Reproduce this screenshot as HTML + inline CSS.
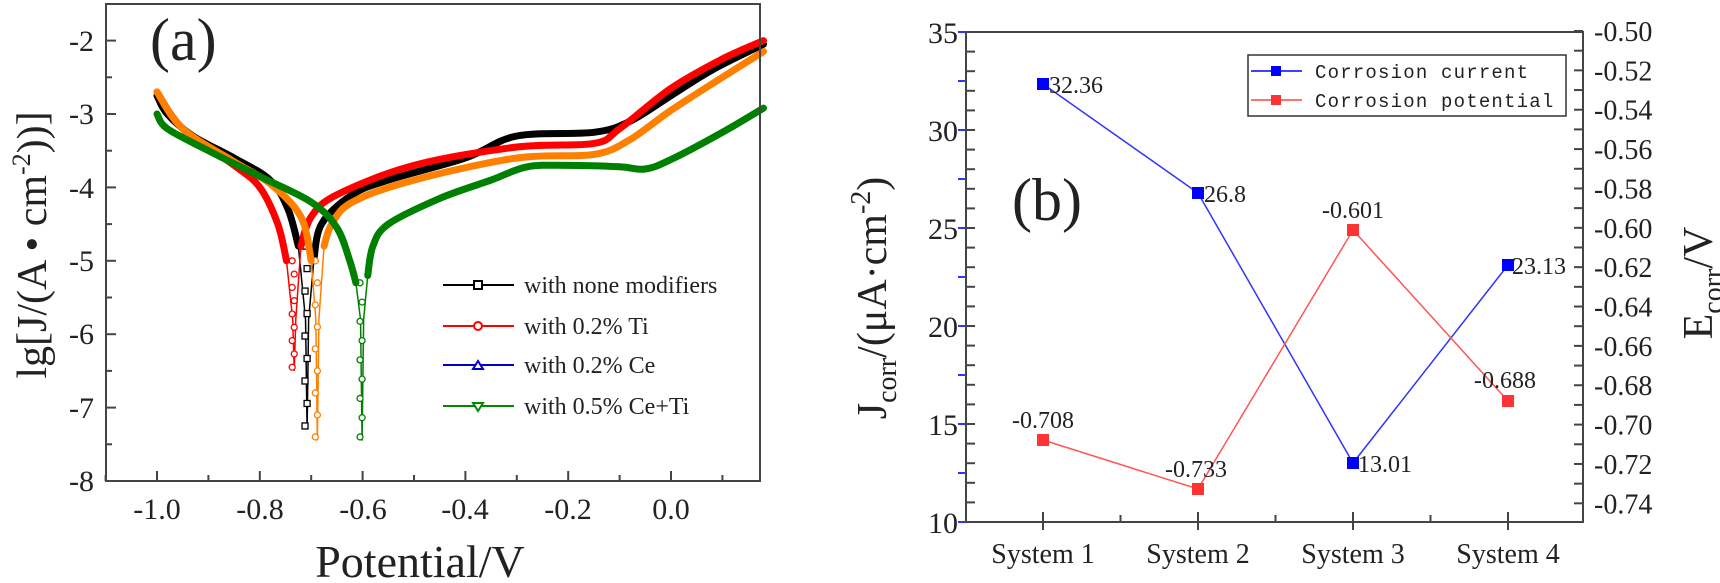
<!DOCTYPE html>
<html><head><meta charset="utf-8"><style>
html,body{margin:0;padding:0;background:#fff;}
svg{display:block;}
text{font-family:"Liberation Serif",serif;fill:#222;}
.m{font-family:"Liberation Mono",monospace;}
</style></head><body>
<svg id="s" width="1720" height="583" viewBox="0 0 1720 583" xmlns="http://www.w3.org/2000/svg">
<g id="curves"></g>
<!-- left frame -->
<rect x="106" y="4" width="654" height="477" fill="none" stroke="#444" stroke-width="2"/>
<g id="lticks" stroke="#444" stroke-width="2"></g>
<g font-size="30" text-anchor="end">
<text x="94" y="51">-2</text><text x="94" y="124">-3</text><text x="94" y="198">-4</text>
<text x="94" y="271">-5</text><text x="94" y="344">-6</text><text x="94" y="418">-7</text><text x="94" y="491">-8</text>
</g>
<g font-size="30" text-anchor="middle">
<text x="157" y="519">-1.0</text><text x="260" y="519">-0.8</text><text x="363" y="519">-0.6</text>
<text x="465" y="519">-0.4</text><text x="568" y="519">-0.2</text><text x="671" y="519">0.0</text>
</g>
<text x="420" y="577" font-size="46" text-anchor="middle">Potential/V</text>
<text transform="translate(46,245) rotate(-90)" font-size="42" text-anchor="middle">lg[J/(A • cm<tspan font-size="26" dy="-16">-2</tspan><tspan dy="16">))]</tspan></text>
<text x="150" y="60" font-size="60">(a)</text>
<!-- legend a -->
<g stroke-width="2" fill="#fff">
<line x1="443" y1="285" x2="514" y2="285" stroke="#000"/><rect x="474" y="281" width="8" height="8" stroke="#000"/>
<line x1="443" y1="326" x2="514" y2="326" stroke="#f00"/><circle cx="478" cy="326" r="4" stroke="#f00"/>
<line x1="443" y1="365" x2="514" y2="365" stroke="#00c"/><path d="M473,369 L478,361 L483,369Z" stroke="#00c"/>
<line x1="443" y1="406" x2="514" y2="406" stroke="#080"/><path d="M473,403 L478,411 L483,403Z" stroke="#080"/>
</g>
<g font-size="24">
<text x="524" y="293">with none modifiers</text>
<text x="524" y="334">with 0.2% Ti</text>
<text x="524" y="373">with 0.2% Ce</text>
<text x="524" y="414">with 0.5% Ce+Ti</text>
</g>

<!-- right plot -->
<rect x="966" y="32" width="617" height="490" fill="none" stroke="#444" stroke-width="2"/>
<g id="rticks" stroke-width="2"></g>
<g font-size="30" text-anchor="end">
<text x="958" y="43">35</text><text x="958" y="141">30</text><text x="958" y="239">25</text>
<text x="958" y="337">20</text><text x="958" y="435">15</text><text x="958" y="533">10</text>
</g>
<g font-size="28" id="rlab"></g>
<g font-size="28" text-anchor="middle">
<text x="1043" y="563">System 1</text><text x="1198" y="563">System 2</text>
<text x="1353" y="563">System 3</text><text x="1508" y="563">System 4</text>
</g>
<text transform="translate(886,298) rotate(-90)" font-size="42" text-anchor="middle">J<tspan font-size="28" dy="10">corr</tspan><tspan dy="-10">/(μA·cm</tspan><tspan font-size="28" dy="-16">-2</tspan><tspan dy="16">)</tspan></text>
<text transform="translate(1712,283) rotate(-90)" font-size="42" text-anchor="middle">E<tspan font-size="28" dy="10">corr</tspan><tspan dy="-10">/V</tspan></text>
<text x="1012" y="220" font-size="60">(b)</text>
<polyline points="1043,84 1198,193 1353,463 1508,265" fill="none" stroke="#33f" stroke-width="1.5"/>
<polyline points="1043,440 1198,489 1353,230 1508,401" fill="none" stroke="#f55" stroke-width="1.5"/>
<g fill="#00f"><rect x="1037" y="78" width="12" height="12"/><rect x="1192" y="187" width="12" height="12"/><rect x="1347" y="457" width="12" height="12"/><rect x="1502" y="259" width="12" height="12"/></g>
<g fill="#f33"><rect x="1037" y="434" width="12" height="12"/><rect x="1192" y="483" width="12" height="12"/><rect x="1347" y="224" width="12" height="12"/><rect x="1502" y="395" width="12" height="12"/></g>
<g font-size="24">
<text x="1049" y="93">32.36</text><text x="1204" y="202">26.8</text><text x="1358" y="472">13.01</text><text x="1512" y="274">23.13</text>
</g>
<g font-size="24" text-anchor="middle">
<text x="1043" y="428">-0.708</text><text x="1196" y="477">-0.733</text><text x="1353" y="218">-0.601</text><text x="1505" y="388">-0.688</text>
</g>
<rect x="1248" y="55" width="318" height="61" fill="#fff" stroke="#333" stroke-width="1.5"/>
<line x1="1251" y1="71" x2="1302" y2="71" stroke="#00f" stroke-width="1.5"/><rect x="1271" y="66" width="10" height="10" fill="#00f"/>
<line x1="1251" y1="100" x2="1302" y2="100" stroke="#f44" stroke-width="1.5"/><rect x="1271" y="95" width="10" height="10" fill="#f33"/>
<text class="m" x="1315" y="78" font-size="19" letter-spacing="1.2">Corrosion current</text>
<text class="m" x="1315" y="107" font-size="19" letter-spacing="1.2">Corrosion potential</text>
</svg>
<script>
var NS="http://www.w3.org/2000/svg";
function el(p,t,a){var e=document.createElementNS(NS,t);for(var k in a)e.setAttribute(k,a[k]);p.appendChild(e);return e;}
var X=function(v){return 157+(v+1)*514;}, Y=function(l){return 481-(l+8)*73.4;};
var lt=document.getElementById('lticks');
for(var i=0;i<=12;i++){var v=-1.1+i*0.1;var x=X(v);var L=(Math.round(v*10)%2==0)?10:6;el(lt,'line',{x1:x,y1:481,x2:x,y2:481-L});}
for(var j=0;j<=13;j++){var l=-8+j*0.5;var y=Y(l);if(y<4)continue;var L=(j%2==0)?10:6;el(lt,'line',{x1:106,y1:y,x2:106+L,y2:y});}
function smooth(pts){var d='M'+pts[0][0]+','+pts[0][1];for(var i=0;i<pts.length-1;i++){var p0=pts[i-1]||pts[i],p1=pts[i],p2=pts[i+1],p3=pts[i+2]||p2;
var c1=[p1[0]+(p2[0]-p0[0])/6,p1[1]+(p2[1]-p0[1])/6],c2=[p2[0]-(p3[0]-p1[0])/6,p2[1]-(p3[1]-p1[1])/6];
d+=' C'+c1[0].toFixed(1)+','+c1[1].toFixed(1)+' '+c2[0].toFixed(1)+','+c2[1].toFixed(1)+' '+p2[0].toFixed(1)+','+p2[1].toFixed(1);}return d;}
function map(a){return a.map(function(p){return [X(p[0]),Y(p[1])];});}
var series=[
{c:'#000',e:-0.708,m:-7.3,cat:[[-1,-2.75],[-0.98,-3.0],[-0.93,-3.3],[-0.85,-3.6],[-0.78,-3.9],[-0.745,-4.3],[-0.725,-4.8]],
 an:[[-0.695,-5.0],[-0.68,-4.5],[-0.62,-4.1],[-0.55,-3.9],[-0.4,-3.6],[-0.3,-3.3],[-0.15,-3.25],[-0.08,-3.1],[0,-2.75],[0.08,-2.4],[0.18,-2.05]],mk:'s'},
{c:'#f00',e:-0.733,m:-6.5,cat:[[-1,-2.7],[-0.95,-3.2],[-0.85,-3.7],[-0.8,-4.0],[-0.765,-4.5],[-0.748,-5.0]],
 an:[[-0.72,-4.8],[-0.70,-4.4],[-0.65,-4.1],[-0.5,-3.7],[-0.3,-3.45],[-0.15,-3.4],[-0.1,-3.2],[0,-2.65],[0.1,-2.25],[0.18,-2.0]],mk:'c'},
{c:'#ff8000',e:-0.688,m:-7.45,cat:[[-1,-2.7],[-0.95,-3.2],[-0.85,-3.65],[-0.78,-3.95],[-0.72,-4.4],[-0.70,-5.0]],
 an:[[-0.675,-4.8],[-0.66,-4.5],[-0.62,-4.2],[-0.5,-3.9],[-0.3,-3.6],[-0.15,-3.55],[-0.08,-3.35],[0,-2.95],[0.1,-2.5],[0.18,-2.15]],mk:'d'},
{c:'#008000',e:-0.601,m:-7.45,cat:[[-1,-3.0],[-0.98,-3.2],[-0.9,-3.5],[-0.8,-3.85],[-0.7,-4.2],[-0.65,-4.55],[-0.625,-5.0],[-0.613,-5.3]],
 an:[[-0.59,-5.2],[-0.58,-4.8],[-0.55,-4.5],[-0.45,-4.15],[-0.35,-3.9],[-0.28,-3.72],[-0.2,-3.7],[-0.1,-3.72],[-0.05,-3.75],[0,-3.62],[0.1,-3.25],[0.18,-2.92]],mk:'t'}];
var g=document.getElementById('curves');
series.forEach(function(s){
 var a=s.cat[s.cat.length-1],b=s.an[0];
 el(g,'polyline',{points:[X(a[0]),Y(a[1]),X(s.e-0.003),Y(-5.8),X(s.e),Y(s.m),X(s.e+0.003),Y(-5.8),X(b[0]),Y(b[1])].join(' '),fill:'none',stroke:s.c,'stroke-width':1.5});
 for(var k=0;k<9;k++){var l=a[1]-(a[1]-(s.m+0.05))*k/8;var xx=X(s.e-0.004+ (k%2)*0.004);
   if(s.mk=='s')el(g,'rect',{x:xx-3,y:Y(l)-3,width:6,height:6,fill:'#fff',stroke:s.c,'stroke-width':1.3});
   else el(g,'circle',{cx:xx,cy:Y(l),r:3,fill:'#fff',stroke:s.c,'stroke-width':1.3});}
 el(g,'path',{d:smooth(map(s.cat)),fill:'none',stroke:s.c,'stroke-width':7,'stroke-linecap':'round'});
 el(g,'path',{d:smooth(map(s.an)),fill:'none',stroke:s.c,'stroke-width':7,'stroke-linecap':'round'});
});
var rt=document.getElementById('rticks');
for(var v=10;v<=35;v++){var y=522-(v-10)*19.6;el(rt,'line',{x1:966,y1:y,x2:975,y2:y,stroke:'#444'});}
for(var v=10;v<=35;v+=2.5){var y=522-(v-10)*19.6;el(rt,'line',{x1:958,y1:y,x2:966,y2:y,stroke:'#33f'});}
var rl=document.getElementById('rlab');
for(var k=0;k<=25;k++){var e=-0.5-k*0.01;var y=31+k*19.68;if(y>522)break;el(rt,'line',{x1:1583,y1:y,x2:1574,y2:y,stroke:'#444'});
 if(k%2==0&&k<=24){var t=el(rl,'text',{x:1594,y:y+10});t.textContent=e.toFixed(2);}}
[1043,1198,1353,1508].forEach(function(x){el(rt,'line',{x1:x,y1:512,x2:x,y2:530,stroke:'#444'});});
[1120.5,1275.5,1430.5].forEach(function(x){el(rt,'line',{x1:x,y1:522,x2:x,y2:515,stroke:'#444'});});
</script>
</body></html>
